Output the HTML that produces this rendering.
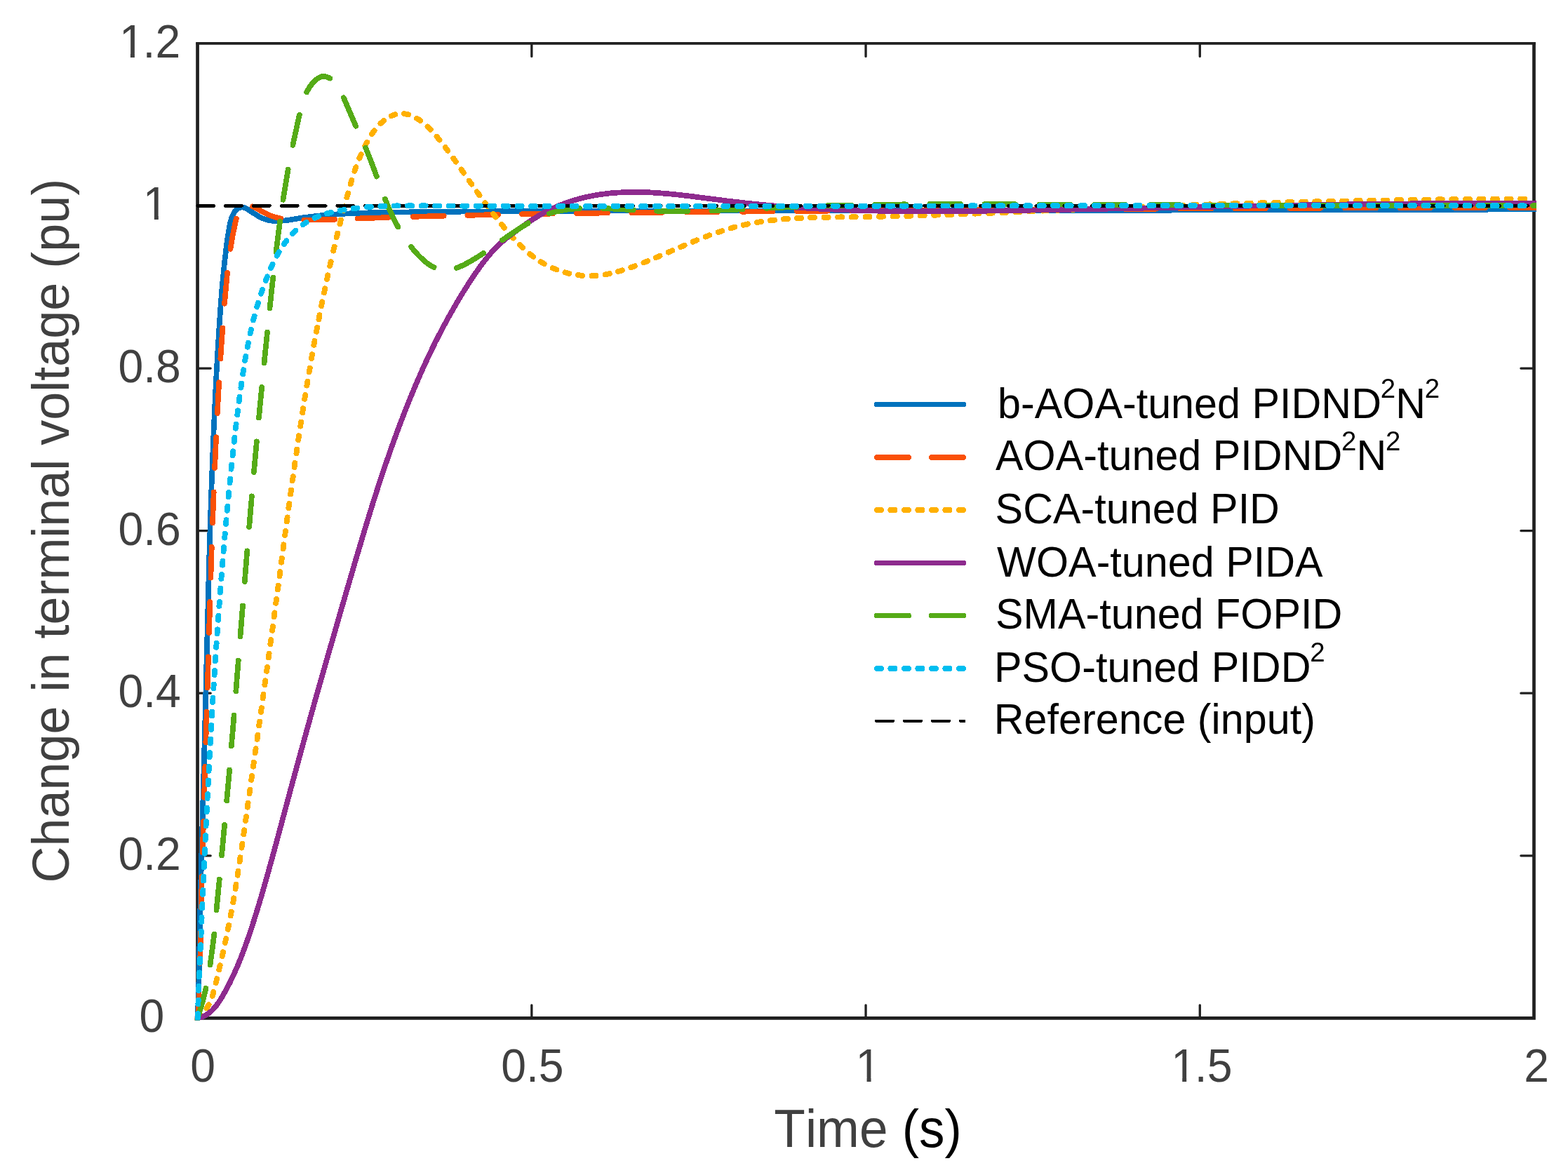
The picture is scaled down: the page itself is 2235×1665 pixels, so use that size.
<!DOCTYPE html>
<html lang="en"><head><meta charset="utf-8"><title>Step response comparison</title>
<style>html,body{margin:0;padding:0;background:#fff}svg{display:block}text{font-family:"Liberation Sans",Arial,Helvetica,sans-serif;font-kerning:none}.tk{font-size:64.3px;fill:#404040}.lb{font-size:73px;fill:#404040}.yl{font-size:71.95px}.lg{font-size:59.3px;fill:#000}.sp{font-size:38.5px}.c{fill:none;stroke-width:7.70;stroke-linecap:round;stroke-linejoin:round}.d{stroke-width:7.9px}</style></head><body>
<svg width="2235" height="1665" viewBox="0 0 2235 1665" role="img" aria-label="Step responses of the AVR system with different controllers">
<rect width="2235" height="1665" fill="#fff"/>
<g fill="none" stroke="#202020">
<path stroke-width="4.7" d="M281.55 60.3V1453.6M2186.50 60.3V1453.6M279.4 1451.45H2188.8"/>
<path stroke-width="3.8" d="M279.4 61.9H2188.8"/>
<path d="M757.83 1451.40v-18.6M757.83 61.85v18.6M1234.05 1451.40v-18.6M1234.05 61.85v18.6M1710.28 1451.40v-18.6M1710.28 61.85v18.6M281.60 1219.81h18.6M2186.50 1219.81h-18.6M281.60 988.22h18.6M2186.50 988.22h-18.6M281.60 756.62h18.6M2186.50 756.62h-18.6M281.60 525.03h18.6M2186.50 525.03h-18.6M281.60 293.44h18.6M2186.50 293.44h-18.6" stroke-width="3.3" stroke-linecap="round"/>
</g>
<g class="tk">
<text transform="translate(198.40 1471.40) scale(1 1.042)">0</text>
<text transform="translate(168.50 1239.81) scale(1 1.042)">0.2</text>
<text transform="translate(168.50 1008.22) scale(1 1.042)">0.4</text>
<text transform="translate(168.50 776.62) scale(1 1.042)">0.6</text>
<text transform="translate(168.50 545.03) scale(1 1.042)">0.8</text>
<text transform="translate(203.85 313.44) scale(1 1.042)">1</text>
<text dx="2.1 -2.1" transform="translate(167.80 81.85) scale(1 1.042)">1.2</text>
<text transform="translate(271.30 1542.00) scale(1 1.042)">0</text>
<text transform="translate(714.20 1542.00) scale(1 1.042)">0.5</text>
<text transform="translate(1219.55 1542.00) scale(1 1.042)">1</text>
<text dx="2.1 -2.1" transform="translate(1667.10 1542.00) scale(1 1.042)">1.5</text>
<text transform="translate(2172.30 1542.00) scale(1 1.042)">2</text>
</g>
<path fill="#fff" d="M207.30 307.84h12.57v6.61h-12.57zM225.85 307.84h12.21v6.61h-12.21zM173.35 76.24h12.57v6.61h-12.57zM191.90 76.24h12.21v6.61h-12.21zM1223.00 1536.39h12.57v6.61h-12.57zM1241.55 1536.39h12.21v6.61h-12.21zM1672.65 1536.39h12.57v6.61h-12.57zM1691.20 1536.39h12.21v6.61h-12.21z"/>
<text class="lb" transform="translate(1103.3 1634.8) scale(1 1.035)">Time <tspan fill="#000">(s)</tspan></text>
<text class="lb yl" transform="translate(98.2 1258.4) rotate(-90) scale(1 1.03)">Change in terminal voltage (pu)</text>
<clipPath id="k"><rect x="277.7" y="0" width="1912.3" height="1454.6"/></clipPath>
<g clip-path="url(#k)" shape-rendering="crispEdges">
<path class="c s" stroke="#0072BD" d="M281.3 1458.4L282.4 1431.8L283.3 1404.0L283.9 1374.6L285.1 1307.6L285.9 1270.7L291.7 1053.1L296.5 862.6L298.5 786.6L300.5 722.6L302.6 663.9L304.8 609.7L307.2 558.5L308.9 525.5L310.8 493.1L312.8 460.8L314.7 433.8L316.4 412.0L318.2 392.5L320.1 373.8L322.2 355.8L324.0 341.6L325.9 329.7L327.6 320.2L328.4 316.6L329.2 313.7L330.1 310.7L331.3 307.8L332.6 304.9L333.8 302.9L335.1 301.0L336.6 299.4L338.3 297.9L339.6 297.1L340.9 296.5L342.2 296.0L344.4 295.6L346.5 295.7L348.6 296.2L350.7 297.1L353.4 298.6L364.2 305.6L368.0 308.0L371.3 309.8L374.7 311.4L379.0 312.9L381.3 313.5L384.2 314.2L386.5 314.5L389.5 314.9L394.7 315.1L400.7 314.9L406.7 314.3L411.9 313.6L424.6 311.5L432.8 310.2L442.5 308.9L452.2 307.8L461.9 306.8L471.7 306.0L482.2 305.2L492.7 304.6L515.3 303.6L540.9 302.9L578.5 302.4L638.8 301.8L744.2 301.0L862.5 300.6L958.1 300.5L1235.3 300.3L1443.9 300.1L1703.0 299.6L2193.5 298.5"/>
<path class="c s" stroke="#FA5008" d="M280.7 1458.3L282.4 1445.4L282.9 1439.4L283.3 1430.4L283.5 1407.3M285.1 1373.0L286.1 1329.0M286.7 1293.3L287.8 1249.3M288.7 1215.1L290.0 1171.1M291.0 1136.8L292.3 1092.9M293.3 1058.5L294.7 1014.6M295.7 980.3L297.0 936.3M298.0 902.0L299.3 858.0M300.4 823.7L301.8 779.7M303.0 745.4L304.7 701.4M306.1 667.1L308.1 623.2M309.8 589.1L312.2 545.2M314.3 511.2L317.3 467.4M320.0 432.8L324.0 389.0M328.4 355.0L332.0 334.1L335.7 316.3L336.8 311.8M359.8 294.4L362.7 295.6L365.6 297.0L376.4 303.1L379.2 304.5L381.9 305.9L384.7 307.0L387.5 308.1L390.6 309.1L393.7 310.0L396.9 310.8L400.1 311.5M433.2 313.8L477.2 312.7M509.5 311.5L553.5 310.0M588.7 308.9L632.7 307.7M666.3 306.9L710.3 305.9M743.9 305.3L787.9 304.6M822.0 304.1L866.0 303.5M900.2 303.2L944.2 302.7M978.9 302.4L1022.9 302.0M1057.6 301.7L1101.6 301.3M1135.8 301.0L1179.8 300.7M1214.0 300.4L1258.0 300.1M1292.3 299.8L1336.3 299.5M1370.2 299.3L1414.2 299.0M1448.2 298.8L1492.2 298.6M1526.1 298.4L1570.1 298.1M1604.1 298.0L1648.1 297.7M1682.2 297.6L1726.2 297.4M1760.3 297.2L1804.3 297.0M1838.5 296.9L1882.5 296.7M1917.2 296.6L1961.2 296.4M1995.3 296.3L2039.3 296.1M2073.4 296.0L2117.4 295.9M2151.7 295.8L2193.5 295.7"/>
<path class="c d" stroke="#FFB000" d="M276.1 1455.8L284.1 1449.5L286.3 1447.5M294.6 1437.4L296.3 1434.7L297.6 1432.2M302.7 1419.9L304.4 1414.2M307.8 1401.1L309.2 1395.3M312.3 1382.1L313.6 1376.3M316.7 1363.1L318.0 1357.3M320.9 1343.9L322.2 1338.1M324.9 1324.7L326.1 1318.8M328.7 1305.5L329.8 1299.6M332.2 1286.4L333.2 1280.4M335.5 1267.0L336.5 1261.0M338.6 1247.7L339.5 1241.8M341.6 1228.2L342.5 1222.3M344.5 1208.6L345.4 1202.7M347.3 1189.3L348.1 1183.4M350.0 1170.0L350.9 1164.1M352.8 1150.7L353.6 1144.8M355.5 1131.4L356.4 1125.5M358.3 1111.9L359.1 1106.0M361.0 1092.6L361.9 1086.7M363.8 1073.2L364.6 1067.3M366.5 1053.9L367.4 1047.9M369.2 1034.5L370.1 1028.6M372.0 1015.1L372.8 1009.2M374.7 995.5L375.5 989.6M377.4 976.2L378.2 970.3M380.1 956.8L380.9 950.9M382.8 937.5L383.6 931.6M385.4 918.2L386.2 912.2M388.1 898.7L388.9 892.8M390.7 879.3L391.5 873.4M393.3 859.9L394.1 854.0M395.9 840.4L396.7 834.5M398.5 821.0L399.2 815.1M401.0 801.6L401.8 795.6M403.6 782.2L404.4 776.3M406.2 762.9L407.0 757.0M408.8 743.4L409.6 737.4M411.4 724.1L412.3 718.1M414.1 704.5L415.0 698.6M416.8 685.2L417.7 679.3M419.6 665.9L420.4 660.0M422.4 646.4L423.3 640.5M425.2 627.1L426.1 621.2M428.2 607.6L429.1 601.7M431.2 588.2L432.1 582.2M434.3 568.9L435.2 563.0M437.4 549.6L438.4 543.7M440.7 530.4L441.7 524.5M444.0 511.1L445.1 505.2M447.4 491.9L448.5 486.0M451.0 472.7L452.1 466.8M454.4 455.2L455.5 449.3M458.1 436.2L459.3 430.3M462.0 417.3L463.2 411.4M466.0 398.2L467.3 392.3M470.3 379.0L471.6 373.1M475.2 357.5L476.6 351.6M479.7 338.4L481.2 332.6M484.5 319.4L485.9 313.6M489.4 300.2L490.9 294.4M494.4 281.3L496.0 275.5M499.7 262.5L501.4 256.8M505.5 243.9L507.4 238.2M512.2 225.6L514.6 220.1M520.3 207.9L523.1 202.6M530.1 191.0L533.6 186.2M542.5 176.0L544.7 174.0L547.0 172.1M557.8 165.3L560.5 164.1L563.4 163.2M576.0 162.2L579.0 162.7L581.9 163.4M594.1 168.7L596.8 170.4L599.2 172.0M609.5 180.5L613.7 184.7M622.6 194.8L626.4 199.5M634.7 210.1L638.3 214.8M646.3 225.7L649.8 230.6M657.6 241.6L661.0 246.5M668.7 257.6L672.2 262.5M679.9 273.5L683.4 278.3M691.3 289.2L694.9 294.0M703.1 304.8L706.7 309.5M715.1 320.1L718.9 324.7M727.7 335.0L731.7 339.4M740.8 349.0L745.2 353.2M755.3 362.1L760.0 365.8M770.6 373.1L775.7 376.1M787.8 382.1L793.4 384.4M805.5 388.4L811.3 389.9M824.1 392.2L830.1 392.9M843.5 393.3L849.5 393.0M862.9 391.3L868.8 390.2M881.1 387.1L886.9 385.4M899.4 381.2L905.0 379.2M917.5 374.4L923.0 372.2M934.9 367.3L940.5 364.9M952.8 359.6L958.3 357.2M970.2 352.1L975.7 349.7M987.6 344.7L993.2 342.4M1005.6 337.5L1011.2 335.4M1023.6 331.0L1029.3 329.1M1041.6 325.3L1047.4 323.7M1060.0 320.7L1065.9 319.4M1078.9 317.0L1084.9 316.1M1098.0 314.3L1104.0 313.6M1117.0 312.4L1123.0 311.9M1136.1 311.1L1142.1 310.8M1155.1 310.2L1161.1 310.1M1174.6 309.8L1180.6 309.7M1194.1 309.5L1200.1 309.4M1213.7 309.3L1219.7 309.2M1233.5 309.1L1239.5 309.0M1253.0 308.7L1259.0 308.6M1272.8 308.3L1278.8 308.2M1292.3 307.9L1298.3 307.7M1311.8 307.3L1317.7 307.1M1331.2 306.7L1337.2 306.5M1350.4 306.1L1356.4 305.9M1369.9 305.4L1375.9 305.1M1389.4 304.6L1395.4 304.4M1408.8 303.9L1414.8 303.6M1428.3 303.1L1434.3 302.8M1447.8 302.2L1453.8 302.0M1467.2 301.4L1473.1 301.1M1486.5 300.6L1492.5 300.3M1505.9 299.7L1511.9 299.5M1525.3 298.9L1531.3 298.6M1544.7 298.1L1550.7 297.8M1564.1 297.3L1570.1 297.0M1583.5 296.5L1589.5 296.2M1602.8 295.7L1608.8 295.5M1622.2 295.0L1628.2 294.7M1641.6 294.3L1647.6 294.0M1661.0 293.6L1667.0 293.4M1680.4 292.9L1686.4 292.7M1699.8 292.2L1705.8 292.0M1719.2 291.6L1725.2 291.4M1738.6 291.0L1744.6 290.8M1757.5 290.4L1763.5 290.3M1777.0 289.9L1783.0 289.7M1796.5 289.4L1802.5 289.2M1816.0 288.8L1822.0 288.7M1835.4 288.3L1841.4 288.2M1854.9 287.9L1860.9 287.7M1874.2 287.4L1880.2 287.3M1893.8 287.0L1899.8 286.9M1913.1 286.6L1919.1 286.5M1932.8 286.2L1938.8 286.1M1952.1 285.9L1958.1 285.8M1971.5 285.5L1977.5 285.5M1991.0 285.2L1997.0 285.1M2010.7 285.0L2016.7 284.9M2030.1 284.7L2036.1 284.6M2049.7 284.4L2055.7 284.4M2069.3 284.2L2075.3 284.2M2088.8 284.0L2094.8 284.0M2108.3 283.9L2114.3 283.8M2128.0 283.7L2134.0 283.7M2147.6 283.6L2153.6 283.6M2167.1 283.5L2173.1 283.5"/>
<path class="c s" stroke="#8E2B8E" d="M274.8 1453.2L281.6 1451.4L284.3 1450.8L287.0 1450.0L288.8 1449.3L291.3 1448.2L293.0 1447.3L295.2 1445.9L297.4 1444.4L299.4 1442.8L301.4 1441.1L303.3 1439.2L305.1 1437.3L307.3 1434.7L309.3 1432.1L311.3 1429.3L313.6 1425.9L316.1 1421.8L321.6 1412.3L327.2 1401.6L332.5 1390.7L337.7 1379.1L342.6 1367.3L347.4 1354.8L352.2 1341.5L357.9 1324.9L364.0 1305.7L371.3 1281.8L378.6 1256.5L385.2 1233.1L392.5 1206.5L415.7 1120.0L425.8 1083.0L436.5 1044.0L447.9 1003.1L466.2 939.0L487.8 863.9L506.9 798.6L520.4 753.4L530.1 721.8L539.3 692.9L548.4 665.4L557.5 639.3L566.4 614.6L575.5 590.7L584.7 567.5L593.8 545.8L599.2 533.4L604.4 521.7L609.8 510.1L615.0 499.2L620.3 488.3L625.8 477.5L631.4 466.8L637.2 456.1L643.1 445.5L648.8 435.6L654.9 425.1L660.9 415.4L667.4 405.1L673.7 395.5L679.4 387.1L684.4 380.0L688.5 374.6L692.6 369.3L696.4 364.6L700.4 360.0L704.4 355.6L708.2 351.8L712.0 348.1L716.0 344.5L720.6 340.6L725.9 336.5L731.8 332.1L739.4 326.5L747.2 321.1L753.8 316.5L760.0 312.4L766.3 308.5L773.3 304.4L780.4 300.6L787.7 297.1L795.1 293.8L802.7 290.8L811.0 287.8L818.7 285.3L827.2 283.0L835.8 280.9L844.4 279.1L853.0 277.6L861.6 276.4L870.9 275.3L880.2 274.6L889.5 274.1L899.5 273.8L912.2 273.9L925.6 274.3L939.6 275.2L954.4 276.4L967.1 277.7L981.2 279.3L1035.7 286.3L1060.6 289.2L1076.1 290.8L1092.2 292.4L1108.3 293.8L1125.2 295.1L1142.6 296.3L1160.1 297.3L1177.6 298.2L1195.8 299.0L1214.6 299.7L1233.4 300.2L1252.9 300.7L1273.1 301.0L1306.7 301.3L1342.4 301.3L1381.4 301.0L1427.2 300.4L1541.7 298.4L1814.6 293.0L1887.4 291.8L1953.5 290.9L2016.8 290.3L2076.8 290.0L2132.0 290.0L2193.5 290.3"/>
<path class="c s" stroke="#55AB17" d="M279.4 1458.0L284.4 1442.8L288.7 1428.4L292.4 1413.6L293.4 1409.0M299.6 1375.2L304.0 1342.2L305.2 1331.6M308.5 1297.5L312.8 1253.7M316.0 1219.5L320.1 1175.7M323.2 1141.5L327.1 1097.6M329.9 1063.4L333.6 1019.6M336.3 985.4L339.8 941.5M342.5 907.3L346.0 863.4M348.8 829.2L352.3 785.3M355.2 751.1L358.9 707.3M361.9 673.1L365.9 629.3M369.0 595.6L373.2 551.8M376.6 517.2L381.0 473.5M384.5 439.3L389.2 395.6M393.4 359.6L399.0 315.9M403.5 284.8L410.7 241.4M417.4 206.8L425.8 168.2L426.9 163.8M437.2 131.4L438.6 128.7L440.2 125.9L442.0 123.2L443.9 120.6L446.0 118.1L448.1 115.9L450.3 113.8L452.7 112.0L455.5 110.3L458.4 109.2L461.4 108.9L464.5 109.3L467.5 110.3L470.3 111.7M489.8 139.3L507.2 179.7M521.1 210.6L529.0 230.2L536.9 251.6M548.8 283.6L555.0 298.5L560.5 310.3L564.9 319.0L567.3 323.5M586.1 351.9L590.0 356.8L594.2 361.6L598.6 366.1L603.1 370.4L605.4 372.4L607.8 374.3L610.4 376.2L613.1 378.0L615.8 379.6L618.6 381.0M650.7 382.0L653.6 380.9L659.2 378.5L664.7 375.7L672.9 371.1L683.5 364.6L689.2 360.9M716.0 342.3L733.6 330.1L744.0 323.4L752.8 318.1M782.9 304.5L789.0 302.6L795.1 301.1L801.4 299.8L807.7 298.8L814.1 298.0L826.1 297.0M858.9 296.8L902.8 299.3M936.2 300.7L974.9 301.0L980.2 300.9M1014.3 300.2L1058.3 298.4M1091.7 296.8L1135.7 294.8M1169.1 293.6L1213.1 292.4M1247.0 291.8L1291.0 291.3M1325.2 291.1L1369.2 291.0M1403.4 291.1L1447.4 291.3M1481.5 291.5L1525.5 291.7M1559.9 291.9L1603.9 292.1M1638.9 292.2L1682.9 292.3M1716.8 292.4L1760.8 292.6M1794.8 292.6L1838.8 292.7M1872.7 292.8L1916.7 292.8M1950.7 292.9L1994.7 292.9M2028.7 293.0L2072.7 293.0M2106.6 293.1L2150.6 293.1M2184.9 293.2L2193.5 293.2"/>
<path d="M281.60 293.44H2189.50" fill="none" stroke="#000" stroke-width="4.6" stroke-linecap="round" stroke-dasharray="23.6 16.25" stroke-dashoffset="0.35"/>
<path class="c d" stroke="#00BEF0" d="M281.4 1458.4L281.8 1445.1M282.4 1431.5L282.7 1425.5M283.2 1411.9L283.5 1405.9M284.0 1392.4L284.3 1386.4M284.9 1372.6L285.1 1366.6M285.7 1353.0L286.0 1347.0M286.5 1333.5L286.8 1327.5M287.4 1314.0L287.6 1308.0M288.2 1294.5L288.5 1288.5M289.1 1275.0L289.4 1269.0M290.0 1255.6L290.2 1249.6M290.8 1236.2L291.1 1230.2M291.7 1216.7L292.0 1210.7M292.7 1196.9L293.0 1190.9M293.6 1177.1L293.9 1171.1M294.6 1157.5L294.9 1151.5M295.6 1137.9L295.9 1131.9M296.6 1118.4L296.9 1112.4M297.6 1098.8L297.9 1092.8M298.7 1079.1L299.0 1073.1M299.7 1059.6L300.1 1053.6M300.9 1039.9L301.2 1033.9M302.0 1020.5L302.3 1014.5M303.2 1000.9L303.5 994.9M304.4 981.5L304.7 975.5M305.6 961.9L306.0 955.9M306.9 942.3L307.3 936.4M308.2 922.8L308.6 916.8M309.5 903.3L310.0 897.3M310.9 883.8L311.4 877.8M312.4 864.0L312.8 858.0M313.9 844.6L314.3 838.6M315.4 825.0L315.9 819.0M317.0 805.6L317.5 799.6M318.6 786.0L319.1 780.0M320.2 766.6L320.8 760.7M322.0 747.2L322.5 741.3M323.7 727.8L324.3 721.8M325.6 708.1L326.1 702.1M327.5 688.5L328.1 682.5M329.5 668.7L330.1 662.7M331.6 649.2L332.2 643.3M333.7 629.8L334.4 623.9M335.9 610.7L336.6 604.8M338.3 591.3L339.0 585.4M340.7 571.9L341.5 566.0M343.4 552.6L344.2 546.6M346.2 533.3L347.1 527.3M349.2 514.0L350.3 508.0M352.7 494.7L353.9 488.8M356.7 475.5L358.0 469.7M361.1 456.4L362.6 450.6M366.2 437.5L367.9 431.8M372.1 418.6L374.0 413.0M378.7 400.0L380.9 394.4M386.1 382.1L388.5 376.7M394.6 364.6L397.6 359.4M404.8 347.9L408.4 343.1M417.0 332.9L421.3 328.7M431.7 320.2L434.2 318.5L436.7 316.9M448.5 310.7L454.0 308.5M466.1 304.4L471.9 302.8M484.7 300.0L490.6 299.0M503.6 297.2L509.5 296.5M523.0 295.2L529.0 294.8M542.4 294.1L548.4 293.8M561.6 293.5L567.6 293.4M581.1 293.4L587.1 293.4M600.7 293.4L606.7 293.4M620.2 293.5L626.2 293.5M639.7 293.5L645.7 293.5M659.3 293.6L665.3 293.6M678.8 293.6L684.8 293.6M698.4 293.7L704.4 293.7M717.9 293.7L723.9 293.7M737.6 293.8L743.6 293.8M757.0 293.8L763.0 293.8M776.6 293.8L782.6 293.8M796.2 293.8L802.2 293.8M815.6 293.9L821.6 293.9M835.1 293.9L841.1 293.9M855.0 293.9L861.0 293.9M874.6 293.9L880.6 293.9M894.3 293.9L900.3 293.9M914.1 293.9L920.1 293.9M933.8 293.9L939.8 293.9M953.2 293.9L959.2 293.9M972.8 293.9L978.8 293.9M992.2 293.9L998.2 293.9M1011.7 293.9L1017.7 293.9M1031.3 293.9L1037.3 293.9M1050.9 293.9L1056.9 293.9M1070.8 293.9L1076.8 293.9M1090.4 293.9L1096.4 293.8M1109.5 293.8L1115.5 293.8M1129.1 293.8L1135.1 293.8M1148.7 293.8L1154.7 293.8M1168.1 293.8L1174.1 293.8M1187.8 293.7L1193.8 293.7M1207.4 293.7L1213.4 293.7M1227.0 293.7L1233.0 293.7M1246.4 293.7L1252.4 293.6M1266.1 293.6L1272.1 293.6M1285.6 293.6L1291.6 293.6M1305.3 293.6L1311.3 293.6M1324.7 293.5L1330.7 293.5M1344.4 293.5L1350.4 293.5M1364.0 293.5L1370.0 293.5M1383.6 293.4L1389.6 293.4M1403.2 293.4L1409.2 293.4M1423.1 293.4L1429.1 293.4M1442.7 293.3L1448.7 293.3M1462.2 293.3L1468.2 293.3M1481.8 293.3L1487.8 293.3M1501.2 293.2L1507.2 293.2M1520.7 293.2L1526.7 293.2M1540.3 293.2L1546.3 293.2M1560.0 293.1L1566.0 293.1M1579.4 293.1L1585.4 293.1M1599.0 293.1L1605.0 293.1M1618.6 293.1L1624.6 293.1M1638.3 293.0L1644.3 293.0M1657.7 293.0L1663.7 293.0M1677.3 293.0L1683.3 293.0M1696.9 293.0L1702.9 293.0M1716.5 293.0L1722.5 293.0M1736.1 292.9L1742.1 292.9M1755.6 292.9L1761.6 292.9M1775.2 292.9L1781.2 292.9M1794.9 292.9L1800.9 292.9M1814.5 292.9L1820.5 292.9M1833.9 292.9L1839.9 292.9M1853.6 292.9L1859.6 292.9M1873.3 292.9L1879.3 292.9M1892.9 292.9L1898.9 292.9M1912.4 292.9L1918.4 292.9M1931.9 292.9L1937.9 292.9M1951.6 292.9L1957.6 292.9M1971.0 292.9L1977.0 293.0M1990.6 293.0L1996.6 293.0M2010.1 293.0L2016.1 293.0M2029.7 293.0L2035.7 293.0M2049.3 293.1L2055.3 293.1M2068.8 293.1L2074.8 293.1M2088.4 293.1L2094.4 293.1M2108.0 293.2L2114.0 293.2M2127.6 293.2L2133.6 293.2M2147.1 293.3L2153.1 293.3M2166.7 293.3L2172.7 293.4"/>
</g>
<g shape-rendering="crispEdges">
<path class="c" stroke="#0072BD" d="M1249.8 576.40H1373.2"/>
<path class="c" stroke="#FA5008" stroke-dasharray="45.3 32.8" d="M1249.8 651.90H1373.2"/>
<path class="c d" stroke="#FFB000" stroke-dasharray="6.3 13.2" d="M1249.8 727.00H1373.2"/>
<path class="c" stroke="#8E2B8E" d="M1249.8 802.40H1373.2"/>
<path class="c" stroke="#55AB17" stroke-dasharray="45.3 32.8" d="M1249.8 877.55H1373.2"/>
<path class="c d" stroke="#00BEF0" stroke-dasharray="6.3 13.2" d="M1249.8 953.05H1373.2"/>
<path d="M1249.05 1027.90H1374.2" fill="none" stroke="#000" stroke-width="4.1" stroke-linecap="round" stroke-dasharray="24 15.95"/>
</g>
<text class="lg" transform="translate(1422.0 595.50) scale(1 1.017)">b-AOA-tuned PIDND<tspan class="sp" dx="-1.2" dy="-27.6">2</tspan><tspan dy="27.6">N</tspan><tspan class="sp" dx="-1.2" dy="-27.6">2</tspan></text>
<text class="lg" transform="translate(1419.0 669.70) scale(1 1.017)">AOA-tuned PIDND<tspan class="sp" dx="-1.2" dy="-27.6">2</tspan><tspan dy="27.6">N</tspan><tspan class="sp" dx="-1.2" dy="-27.6">2</tspan></text>
<text class="lg" transform="translate(1418.6 745.50) scale(1 1.017)">SCA-tuned PID</text>
<text class="lg" transform="translate(1421.0 821.50) scale(1 1.017)">WOA-tuned PIDA</text>
<text class="lg" transform="translate(1419.0 895.60) scale(1 1.017)">SMA-tuned FOPID</text>
<text class="lg" transform="translate(1417.0 971.55) scale(1 1.017)">PSO-tuned PIDD<tspan class="sp" dx="-1.2" dy="-27.6">2</tspan></text>
<text class="lg" transform="translate(1416.8 1046.05) scale(1 1.017)">Reference (input)</text>
</svg></body></html>
